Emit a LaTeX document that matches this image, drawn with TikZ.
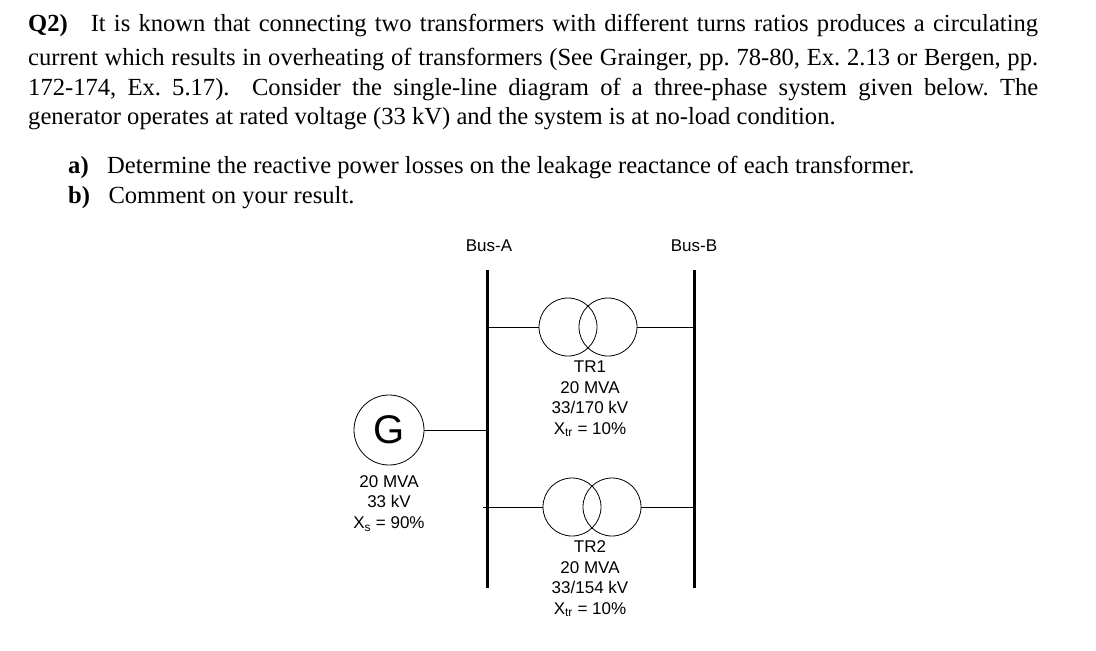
\documentclass[tikz,border=0pt]{standalone}
\usepackage{fontspec}
\setmainfont{Liberation Serif}
\newfontfamily\diagfont{Liberation Sans}
\usetikzlibrary{positioning}
\frenchspacing
\begin{document}
\begin{tikzpicture}[x=1pt,y=-1pt,
  txt/.style={anchor=west,inner sep=0,font=\fontsize{24.6}{28}\selectfont},
  lbl/.style={align=center,inner sep=0,font=\diagfont\fontsize{17}{20.5}\selectfont},
  bus/.style={line width=3pt},
  wire/.style={line width=.6pt},
  wdg/.style={circle,draw,line width=.8pt,minimum size=58pt,inner sep=0}]
\useasboundingbox(0,0)rectangle(1096,651);
% question text
\node[txt](L1)at(28,25){\hbox to 1010pt{\textbf{Q2)}\hspace{.6em} It is known that connecting two transformers with different turns ratios produces a circulating}};
\node[txt](L2)at(28,59){\hbox to 1010pt{current which results in overheating of transformers (See Grainger, pp. 78-80, Ex. 2.13 or Bergen, pp.}};
\node[txt](L3)at(28,89){\hbox to 1010pt{172-174, Ex. 5.17).\ \ Consider the single-line diagram of a three-phase system given below. The}};
\node[txt](L4)at(28,119){generator operates at rated voltage (33 kV) and the system is at no-load condition.};
\node[txt](Qa)at(68,167){\textbf{a)}\hspace{.5em} Determine the reactive power losses on the leakage reactance of each transformer.};
\node[txt](Qb)at(68,198){\textbf{b)}\hspace{.5em} Comment on your result.};
% buses
\coordinate(A1)at(487,270);\coordinate(A2)at(487,588);
\coordinate(B1)at(694,270);\coordinate(B2)at(694,588);
\draw[bus](A1)--(A2);
\draw[bus](B1)--(B2);
\node[lbl](busA)at(489,246){Bus-A};
\node[lbl](busB)at(694,246){Bus-B};
% generator
\node[circle,draw,line width=.8pt,minimum size=70pt,inner sep=0,font=\diagfont\fontsize{40}{40}\selectfont](G)at(389,430){G};
\coordinate(GA)at(487,430);
\draw[wire](G)--(GA);
\node[lbl,below=10pt of G](Gdat){20 MVA\\33 kV\\X\textsubscript{s} = 90\%};
% TR1
\node[wdg](T1a)at(568,327){};
\node[wdg](T1b)at(608,327){};
\coordinate(T1A)at(487,327);\coordinate(T1B)at(694,327);
\draw[wire](T1A)--(T1a.west);
\draw[wire](T1b.east)--(T1B);
\node[lbl](T1dat)at(590,399){TR1\\20 MVA\\33/170 kV\\X\textsubscript{tr} = 10\%};
% TR2
\node[wdg](T2a)at(572,507){};
\node[wdg](T2b)at(612,507){};
\coordinate(T2A)at(483,507);\coordinate(T2B)at(694,507);
\draw[wire](T2A)--(T2a.west);
\draw[wire](T2b.east)--(T2B);
\node[lbl](T2dat)at(590,579){TR2\\20 MVA\\33/154 kV\\X\textsubscript{tr} = 10\%};
\end{tikzpicture}
\end{document}
